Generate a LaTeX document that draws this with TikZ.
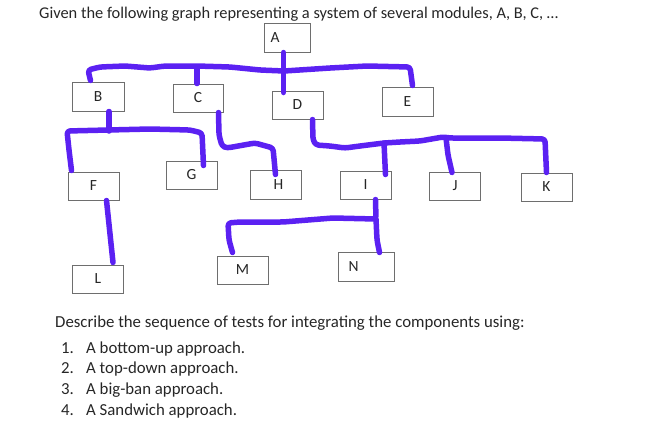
\documentclass[tikz,border=0pt]{standalone}
\usepackage{fontspec}
\setmainfont{Carlito}
\usetikzlibrary{calc}
\definecolor{wirecol}{HTML}{5B21F2}
\definecolor{boxline}{HTML}{6E6E6E}
\definecolor{ink}{HTML}{262626}

\begin{document}
\begin{tikzpicture}[
  x=1pt,y=-1pt,
  modbox/.style={draw=boxline,line width=1pt,minimum width=51pt,minimum height=28pt,inner sep=0pt,font=\fontsize{15.5}{17}\selectfont,text=ink},
  txt/.style={anchor=base west,inner sep=0pt,font=\fontsize{16.4}{19}\selectfont,text=ink},
  wire/.style={wirecol,line width=5.5pt,line cap=round,line join=round,rounded corners=3pt}
]
\useasboundingbox (0,0) rectangle (648,432);
\node[txt] (title) at (39,18) {Given the following graph representing a system of several modules, A, B, C, \dots};
\node[modbox,minimum width=46pt,minimum height=29pt,text width=34pt,align=left] (A) at (287.5,37.5) {A\\[-3pt]};
\node[modbox,minimum width=52pt,minimum height=29pt] (B) at (98,96.5) {B\\[-3pt]};
\node[modbox,minimum width=50pt] (C) at (198,98) {C};
\node[modbox] (D) at (297.5,105) {D};
\node[modbox,minimum height=29pt] (E) at (407.5,101.5) {E};
\node[modbox] (F) at (93.5,186) {F};
\node[modbox] (G) at (191.5,175) {G};
\node[modbox,minimum height=29pt] (H) at (275.5,184.5) {\hspace*{6pt}H};
\node[modbox] (I) at (365.5,185) {I};
\node[modbox] (J) at (455,186) {J};
\node[modbox] (K) at (546.5,187) {K};
\node[modbox] (L) at (98,279) {L};
\node[modbox] (M) at (242.5,270) {M};
\node[modbox,minimum width=56pt,minimum height=29pt,text width=36pt,align=left] (N) at (366.5,266.5) {N};
\node[txt,font=\fontsize{16.8}{19}\selectfont] (question) at (55,327) {Describe the sequence of tests for integrating the components using:};
\foreach \t [count=\i] in {A bottom-up approach.,A top-down approach.,A big-ban approach.,A Sandwich approach.}
  \node[txt,font=\fontsize{16.8}{19}\selectfont] (item\i) at (61,{353+20.7*(\i-1)}) {\makebox[25pt][l]{\i.}\t};
\coordinate (topbus) at (284,71);
\coordinate (dbus) at (384,143);
\coordinate (ibus) at (376,219);
\draw[wire] ($(A.south)+(-4,0)$) -- ($(D.north west)+(12,2)$);
\draw[wire] ($(B.north west)+(19,-1)$) -- (88,70) -- (100,67) -- (125,66) -- (150,68) -- (165,66) -- (197,66) -- (230,67) -- (260,70) -- (topbus) -- (330,68) -- (367,66) -- (410,67) -- ($(E.north west)+(31,-1)$);
\draw[wire] (197,67) -- ($(C.north)+(-1,0)$);
\draw[wire] ($(B.south)+(11,0)$) -- (109,131);
\draw[wire] ($(F.north west)+(4,-1)$) -- (69,150) -- (67,131) -- (108,130) -- (150,129) -- (190,130) -- (202,133) -- ($(G.north east)+(-14,5)$);
\draw[wire] ($(C.south east)+(-5,0)$) -- (219,135) -- (222,146) -- (227,148) -- (255,143) -- (273,148) -- ($(H.north)+(0,5)$);
\draw[wire] ($(D.south east)+(-11,0)$) -- (313,140) -- (316,145) -- (330,146) -- (345,148) -- (360,146) -- (dbus) -- (400,142) -- (420,141) -- (443,137) -- (450,138) -- (500,138) -- (545,139) -- ($(K.north)+(0,0)$);
\draw[wire] (dbus) -- ($(I.north east)+(-6,4)$);
\draw[wire] (446,138) -- (448,155) -- ($(J.north)+(-3,1)$);
\draw[wire] ($(F.south)+(13,0)$) -- ($(L.north)+(15,-2)$);
\draw[wire] ($(I.south)+(10,0)$) -- (ibus) -- (333,218) -- (283,222) -- (240,222) -- (228,223) -- (229,240) -- ($(M.north)+(-10,-3)$);
\draw[wire] (ibus) -- (377,240) -- ($(N.north)+(13,1)$);
\end{tikzpicture}
\end{document}
